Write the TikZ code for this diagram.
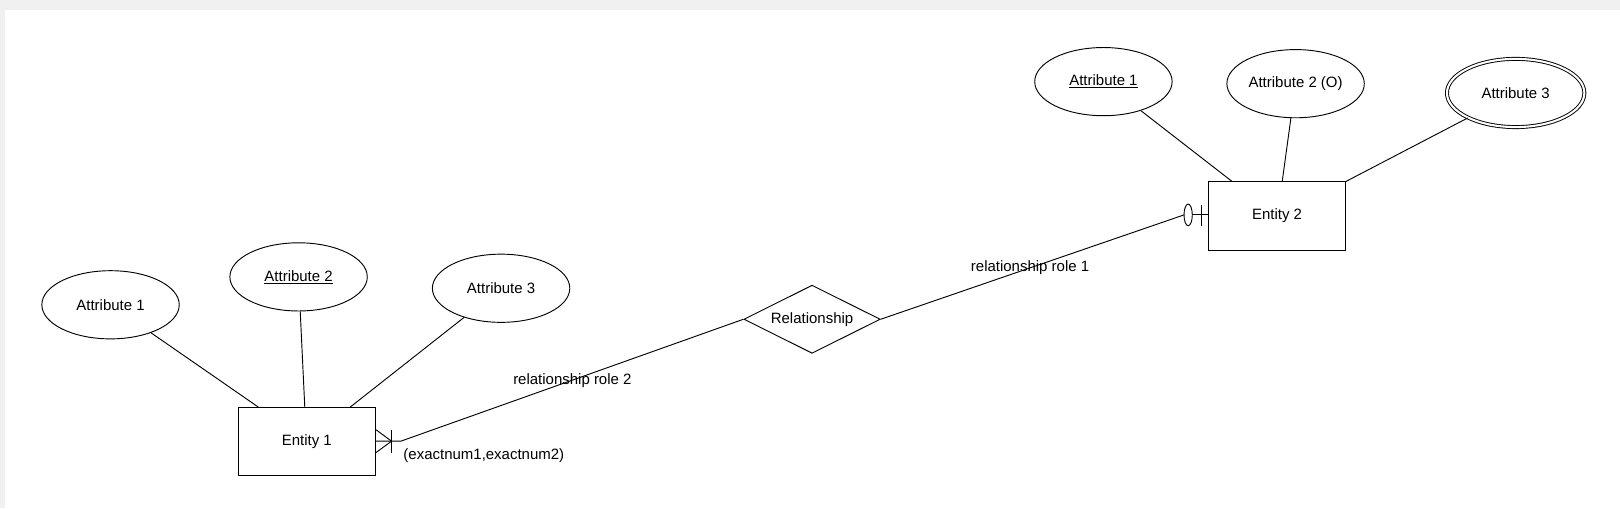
\documentclass[tikz,border=0pt]{standalone}
\usepackage{fontspec}
\setmainfont{Liberation Sans}
\usetikzlibrary{shapes.geometric}
\begin{document}
\begin{tikzpicture}[x=1pt,y=-1pt,font=\fontsize{14.5}{16}\selectfont,
  ent/.style={draw,line width=0.9pt,minimum width=132pt,minimum height=66pt,inner sep=0pt},
  attr/.style={draw,line width=0.9pt,ellipse,minimum width=133pt,minimum height=66pt,inner sep=0pt},
  rel/.style={draw,line width=0.9pt,diamond,minimum width=132pt,minimum height=66pt,inner sep=0pt,aspect=2},
  ln/.style={line width=0.9pt}]
\fill[gray!12] (0,0) rectangle (1568,492);
\fill[white] (4.8,9.7) rectangle (1568,492);
\useasboundingbox (0,0) rectangle (1568,492);
\node[ent] (e1) at (297,427) {Entity 1};
\node[ent] (e2) at (1236,209) {Entity 2};
\node[rel] (r) at (786,309) {Relationship};
\node[attr] (a11) at (107,295) {Attribute 1};
\node[attr] (a12) at (289,268) {\underline{Attribute 2}};
\node[attr] (a13) at (485,279) {Attribute 3};
\node[attr] (a21) at (1068,79) {\underline{Attribute 1}};
\node[attr] (a22) at (1254,81) {Attribute 2 (O)};
\node[attr,double,double distance=2pt] (a23) at (1467,90) {Attribute 3};
\draw[ln] (a11) -- (250,394);
\draw[ln] (a12) -- (295,394);
\draw[ln] (a13) -- (339,394);
\draw[ln] (a21) -- (1193,176);
\draw[ln] (a22) -- (1241,176);
\draw[ln] (a23) -- (1302,176);
% relationship lines
\coordinate (c1) at (388,427);
\coordinate (c2) at (1146,208);
\draw[ln] (r.west) -- (c1) -- (e1.east |- c1);
\draw[ln] (364,416) -- (379,427) -- (364,438);
\draw[ln] (379,416) -- (379,438);
\draw[ln] (r.east) -- (c2);
\draw[ln] (1150,208) ellipse (4pt and 10.5pt);
\draw[ln] (1154,208) -- (e2.west |- c2);
\draw[ln] (1163,198) -- (1163,219);
\node (l2) at (554,368) {relationship role 2};
\node (l1) at (997,259) {relationship role 1};
\node[anchor=west] (l3) at (387,441) {(exactnum1,exactnum2)};
\end{tikzpicture}
\end{document}
